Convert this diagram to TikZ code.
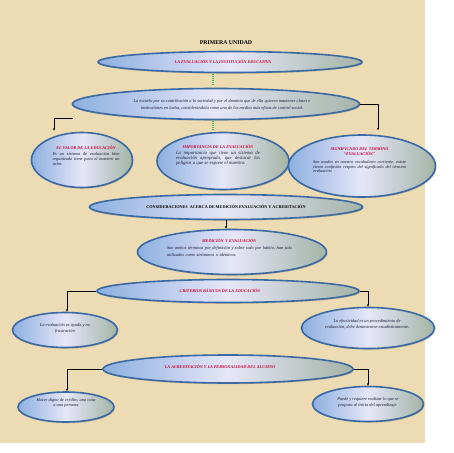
\documentclass[tikz,border=0pt]{standalone}
\usepackage{fontspec}
\setmainfont{Liberation Serif}
\usetikzlibrary{shapes.geometric,shadows,arrows.meta,calc}
\definecolor{parch}{HTML}{ECDBB3}
\definecolor{rimblue}{HTML}{3A69A3}
\definecolor{shL}{HTML}{8DB0E0}
\definecolor{shM}{HTML}{E6E6F8}
\definecolor{shR}{HTML}{A4B4A6}
\definecolor{titred}{HTML}{CC0033}
\definecolor{bodyink}{HTML}{1A1A33}
\definecolor{dotgreen}{HTML}{4DB84D}
\newcommand\ttlfont{\fontsize{4.2}{5}\selectfont\bfseries\itshape\color{titred}}
\newcommand\bdyfont{\fontsize{4.4}{5}\selectfont\itshape\color{bodyink}}
\begin{document}
\begin{tikzpicture}[x=1pt,y=-1pt,
  ell/.style={ellipse, draw=rimblue, line width=1.6pt, left color=shL, right color=shR, middle color=shM,
    inner sep=0pt, drop shadow={shadow xshift=0.8pt, shadow yshift=-1.2pt, opacity=.35, fill=black!60}},
  ttl/.style={font=\ttlfont, inner sep=0pt},
  bdy/.style={font=\bdyfont, inner sep=0pt, align=center},
  blk/.style={font=\bdyfont, inner sep=0pt, align=justify},
  conn/.style={draw=black, line width=0.45pt, -{Stealth[length=2.6pt,width=2.2pt]}},
  dotconn/.style={draw=dotgreen, line width=1.4pt, dash pattern=on 1pt off 1pt}]
\useasboundingbox (0,0) rectangle (453,453);
\fill[white] (0,0) rectangle (453,453);
\fill[parch] (0,0) rectangle (425,443);

% title
\node[font=\fontsize{5.8}{6}\selectfont\bfseries, inner sep=0pt] (t0) at (226,43) {PRIMERA UNIDAD};

% ellipses
\node[ell, minimum width=264pt, minimum height=21pt] (e1) at (230,62) {};
\node[ell, minimum width=287pt, minimum height=31pt] (e2) at (216,104) {};
\node[ell, minimum width=101pt, minimum height=55pt] (v1) at (82,160) {};
\node[ell, minimum width=132pt, minimum height=57pt] (v2) at (223,161) {};
\node[ell, minimum width=147pt, minimum height=62pt] (v3) at (362,166) {};
\node[ell, minimum width=273pt, minimum height=25pt] (e4) at (226,207) {};
\node[ell, minimum width=189pt, minimum height=45pt] (e5) at (232,252) {};
\node[ell, minimum width=262pt, minimum height=23pt] (e6) at (228,291) {};
\node[ell, minimum width=105pt, minimum height=35pt] (l1) at (65,330) {};
\node[ell, minimum width=133pt, minimum height=41pt] (r1) at (368,328) {};
\node[ell, minimum width=250pt, minimum height=28pt] (e7) at (228,369) {};
\node[ell, minimum width=96pt, minimum height=30pt] (l2) at (66,407) {};
\node[ell, minimum width=111pt, minimum height=35pt] (r2) at (368,404) {};

% texts
\node[ttl] (t1) at (223,62) {LA EVALUACIÓN Y LA INSTITUCIÓN EDUCATIVA};
\node[bdy, font=\fontsize{4.4}{7}\selectfont\itshape\color{bodyink}] (t2) at (222,104.5)
  {La escuela por su contribución a la sociedad y por el dominio que de ella quieren mantener clases e\\
   instituciones en lucha, considerándola como uno de los medios más eficaz de control social.};
\node[blk, text width=67pt] (tv1) at (86,155.5)
  {{\centering\ttlfont EL VALOR DE LA EDUCACIÓN\par}\vspace{1.5pt}
   Es un sistema de evaluación bien\linebreak organizado tiene para el maestro un\linebreak valor.};
\node[blk, text width=84pt, font=\fontsize{4.8}{5}\selectfont\itshape\color{bodyink}] (tv2) at (218,155)
  {{\centering\ttlfont IMPORTANCIA DE LA EVALUACIÓN\par}\vspace{1.5pt}
   La importancia que tiene un sistema de\linebreak evaluación apropiada, que destacar los\linebreak peligros a que se expone el maestro.};
\node[blk, text width=93pt, font=\fontsize{4.3}{4.4}\selectfont\itshape\color{bodyink}] (tv3) at (359.5,160)
  {{\centering\ttlfont SIGNIFICADO DEL TERMINO\\“EVALUACIÓN”\par}\vspace{4.5pt}
   Son usados en nuestro vocabulario corriente, existe\linebreak cierta confusión respeto del significado del término\linebreak evaluación};
\node[ttl, font=\fontsize{4.2}{5}\selectfont\bfseries, text=black] (t4) at (226,206.5)
  {CONSIDERACIONES \ ACERCA DE MEDICIÓN EVALUACIÓN Y ACREDITACIÓN};
\node[blk, text width=127pt, align=left, font=\fontsize{4.4}{7}\selectfont\itshape\color{bodyink}] (t5) at (230.5,248)
  {\hspace*{35pt}{\ttlfont MEDICIÓN Y EVALUACIÓN}\\
   Son ambos términos por definición y sobre todo por hábito, han sido\\
   utilizados como sinónimos o idénticos.};
\node[ttl] (t6) at (220,291) {CRITERIOS BÁSICOS DE LA EDUCACIÓN};
\node[bdy, font=\fontsize{4.4}{6}\selectfont\itshape\color{bodyink}] (tl1) at (65,328.5)
  {La evaluación es ayuda y no\\frustración};
\node[bdy, font=\fontsize{4.4}{6}\selectfont\itshape\color{bodyink}] (tr1) at (367,324.5)
  {La efectividad es un procedimiento de\\evaluación, debe demostrarse estadísticamente.};
\node[ttl] (t7) at (220,367) {LA ACREDITACIÓN Y LA PERSONALIDAD DEL ALUMNO};
\node[bdy, font=\fontsize{4.4}{5.5}\selectfont\itshape\color{bodyink}] (tl2) at (66,403)
  {Hacer digno de crédito, una cosa\\a una persona};
\node[bdy, font=\fontsize{4.4}{6}\selectfont\itshape\color{bodyink}] (tr2) at (368,402.5)
  {Puede y requiere realizar lo que se\\propuso al inicio del aprendizaje.};

% connector coordinates
\coordinate (d1) at ($(e1.south)+(-17,1)$);
\coordinate (d2) at ($(e2.north)+(-3,-2)$);
\coordinate (d3) at ($(e2.south)+(-3,1)$);
\coordinate (d4) at ($(v2.north)+(-10,-2)$);
\coordinate (a1) at ($(e2.west)+(1,14)$);
\coordinate (b1) at ($(v1.north)+(-28,-1)$);
\coordinate (b3) at ($(v3.north)+(16,-4)$);

% connectors
\draw[dotconn] (d1) -- (d2);
\draw[dotconn] (d3) -- (d4);
\draw[conn] (a1) -| (b1);
\draw[conn] (e2.east) -| (b3);
\draw[conn] (e4.south) -- (e4.south |- e5.north);
\draw[conn] (e6.west) -| ($(l1.north)+(2,0)$);
\draw[conn] (e6.east) -| (r1.north);
\draw[conn] (e7.west) -| ($(l2.north)+(1,0)$);
\draw[conn] (e7.east) -| (r2.north);
\end{tikzpicture}
\end{document}
